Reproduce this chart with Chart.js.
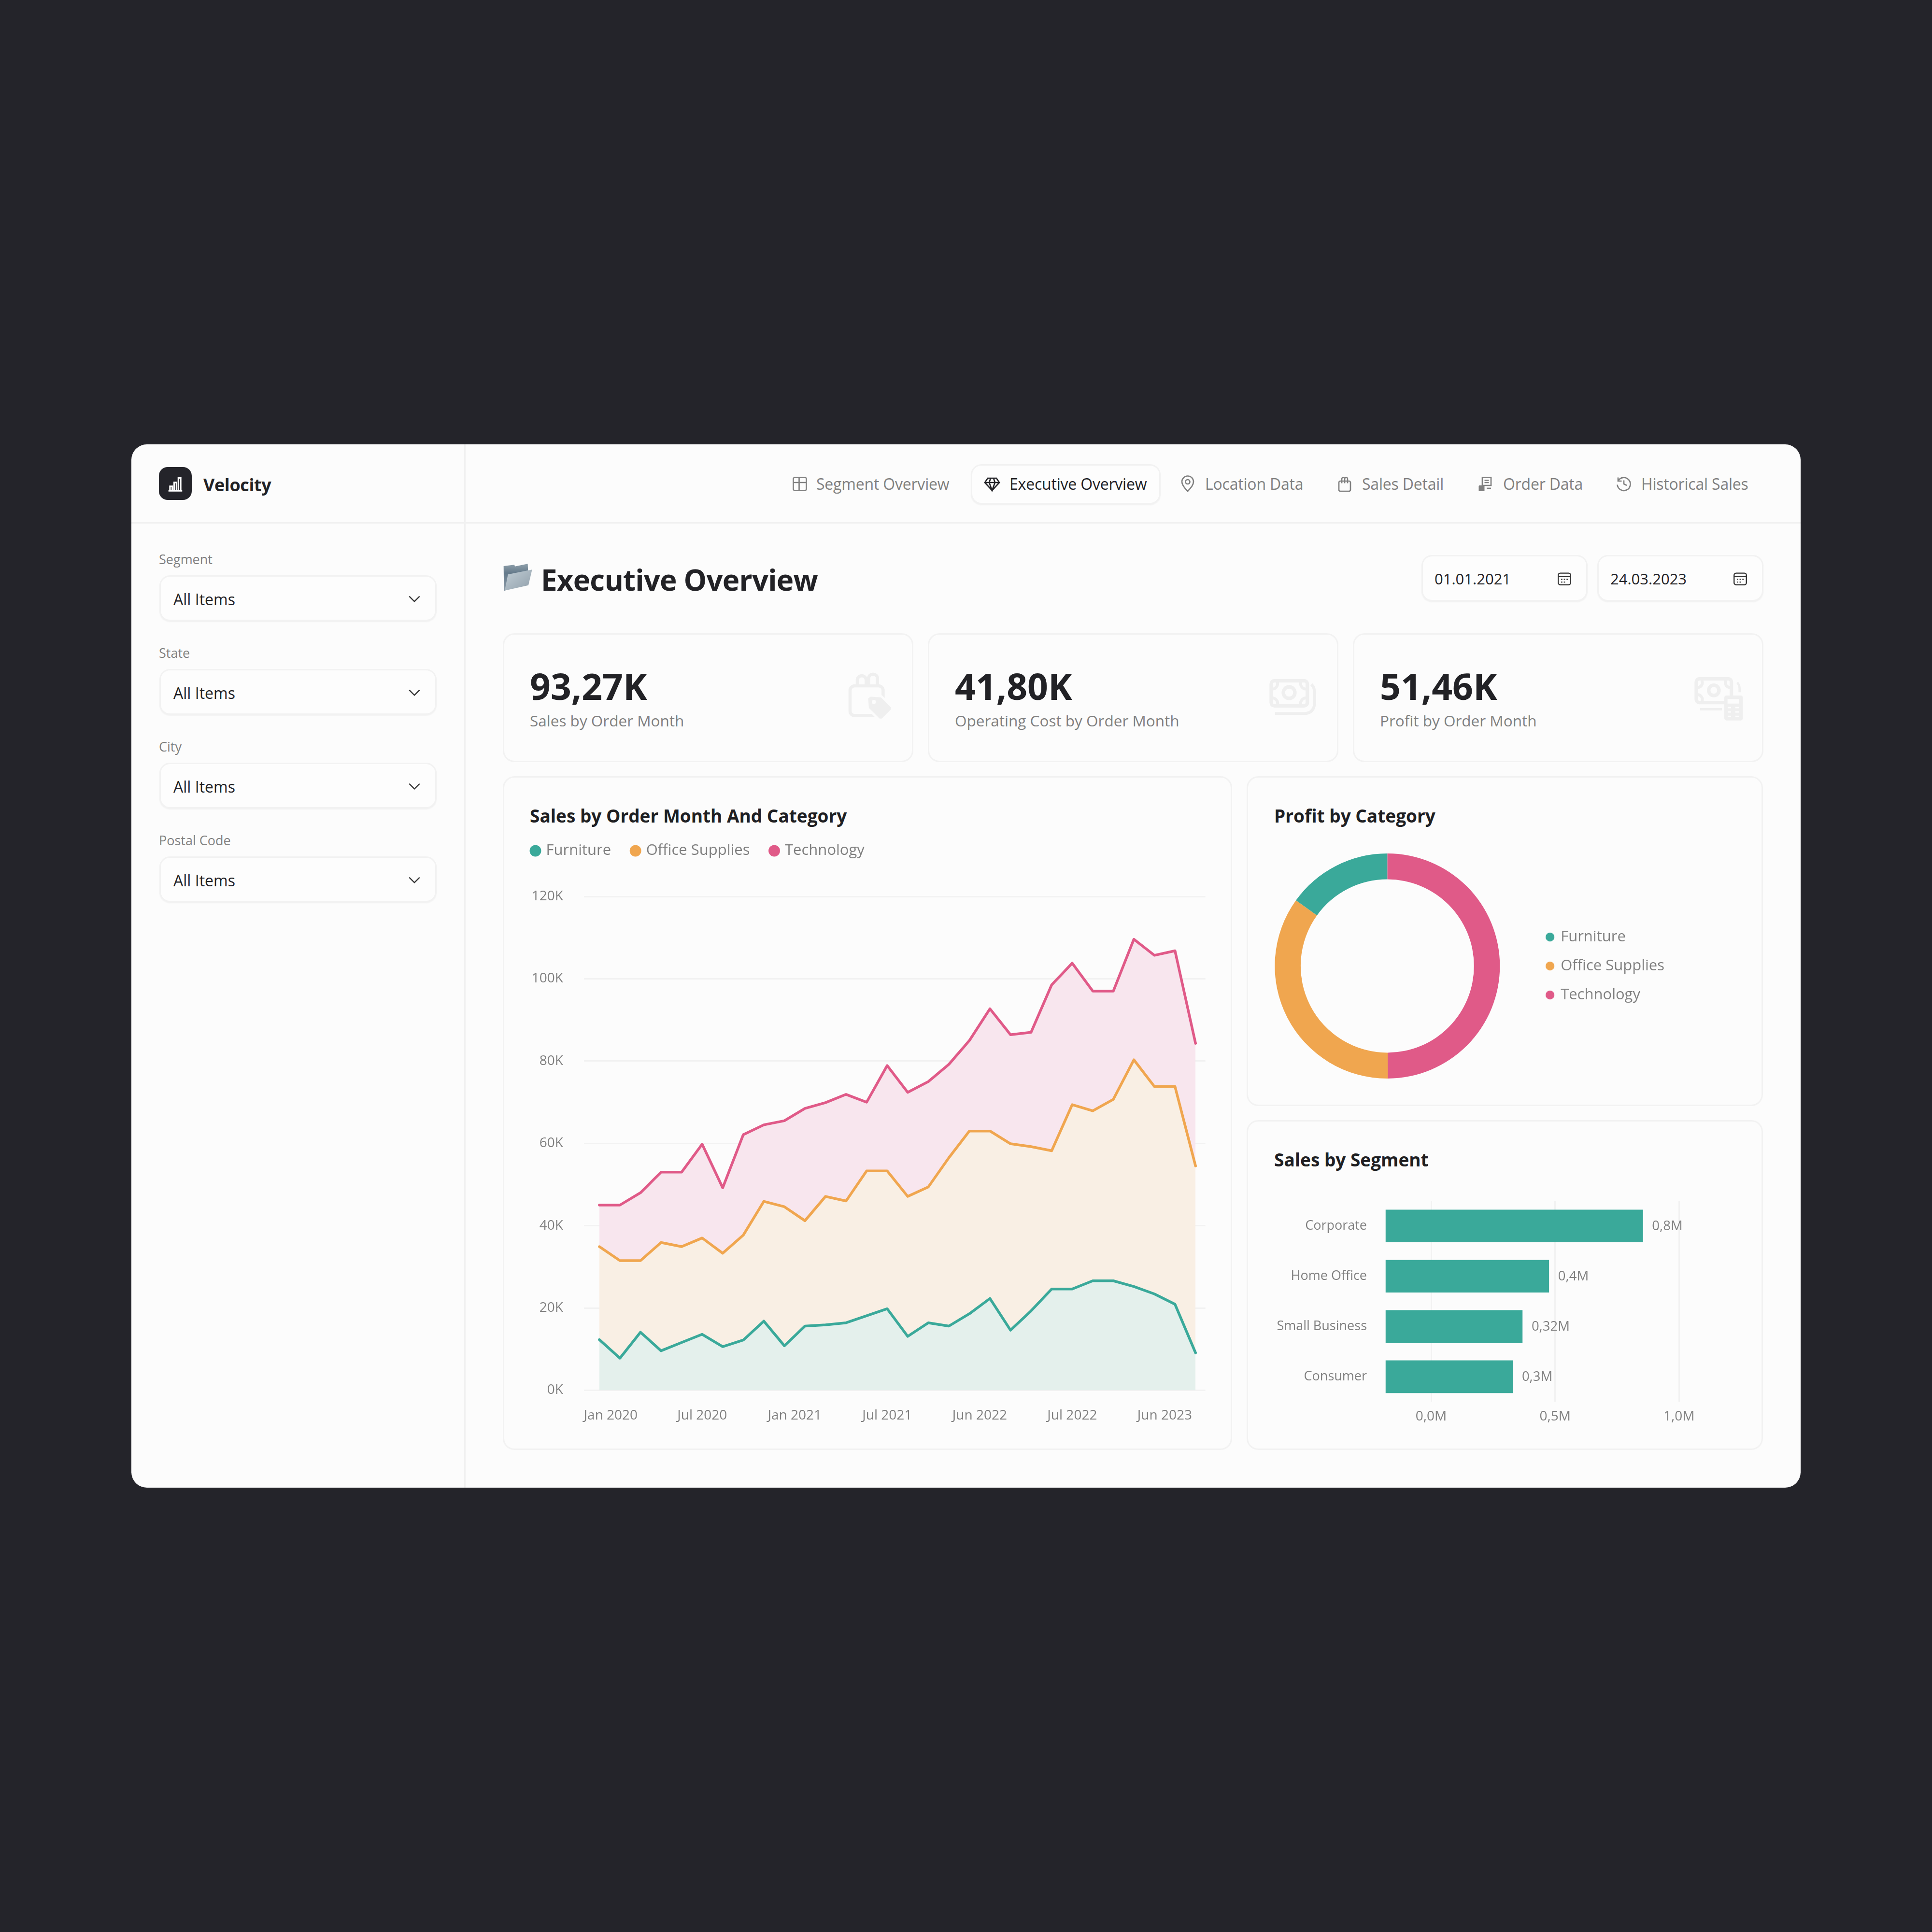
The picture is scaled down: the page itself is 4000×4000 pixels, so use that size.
<!DOCTYPE html>
<html>
<head>
<meta charset="utf-8">
<title>Velocity</title>
<script src="https://cdn.jsdelivr.net/npm/chart.js@4"></script>
<style>
html,body{margin:0;padding:0;width:4000px;height:4000px;background:#24242a;font-family:"Open Sans",sans-serif;overflow:hidden}
#win{position:absolute;left:272px;top:920px;width:3456px;height:2160px;background:#fcfcfc;border-radius:32px}
.abs,.t,.card,.box,canvas,svg{position:absolute}
.t{transform:translateY(-50%);white-space:nowrap;line-height:1.2}
.card,.box{box-sizing:border-box;background:#fcfcfc;border:3px solid #f2f2f2}
.card{border-radius:24px}
.box{border-radius:22px;background:#fdfdfd;box-shadow:0 2px 2px #f2f2f2}
.line{position:absolute;background:#f1f1f1}
.grey{color:#808080}
.dark{color:#222226}
.h{font-weight:700;color:#1f1f23}
</style>
</head>
<body>
<div id="root"></div>
<script>
var months = [0,1,2,3,4,5,6,7,8,9,10,11,12,13,14,15,16,17,18,19,20,21,22,23,24,25,26,27,28,29];
var furniture = [12.3,7.8,14.1,9.6,11.6,13.6,10.6,12.2,16.8,10.8,15.6,15.9,16.4,18.1,19.8,13.1,16.4,15.6,18.6,22.3,14.6,19.3,24.6,24.6,26.6,26.6,25.2,23.4,20.9,9.1];
var officeSupplies = [22.6,23.7,17.4,26.3,23.3,23.4,22.7,25.5,29.1,33.8,25.6,31.2,29.6,35.2,33.5,34,33,40.9,44.4,40.7,45.3,39.9,33.6,44.8,41.3,44.1,55.1,50.4,52.9,45.4];
var technology = [10.1,13.5,16.5,17.1,18.1,22.8,15.9,24.4,18.6,20.9,27.3,22.8,25.9,16.7,25.6,25.3,25.6,22.7,22,29.7,26.5,27.8,40.3,34.4,29.1,26.3,29.3,31.9,33,29.8];
var monthTickValues = [0.55,5,9.5,14,18.5,23,27.5];
var monthTickLabels = ["Jan 2020","Jul 2020","Jan 2021","Jul 2021","Jun 2022","Jul 2022","Jun 2023"];

var profitCategories = ["Technology","Office Supplies","Furniture"];
var profitValues = [25.7,18,7.76];

var segments = ["Corporate","Home Office","Small Business","Consumer"];
var segmentSales = [0.854,0.475,0.368,0.329];
var segmentLabels = ["0,8M","0,4M","0,32M","0,3M"];

var filters = ["Segment","State","City","Postal Code"];
var tabs = ["Segment Overview","Executive Overview","Location Data","Sales Detail","Order Data","Historical Sales"];
var kpis = [["93,27K","Sales by Order Month"],["41,80K","Operating Cost by Order Month"],["51,46K","Profit by Order Month"]];
var dates = ["01.01.2021","24.03.2023"];

var TEAL = "#3aa99a", ORANGE = "#f0a64f", PINK = "#e05a88", GREY = "#808080";
var FONT = '"Open Sans", sans-serif';
Chart.defaults.font.family = FONT;
Chart.defaults.devicePixelRatio = 1;
Chart.defaults.animation = false;
Chart.defaults.responsive = false;

// page frame, everything is placed in page pixels
var h = "";
function text(x, y, s, size, cls, extra){
  h += '<div class="t '+cls+'" style="left:'+x+'px;top:'+y+'px;font-size:'+size+'px;'+(extra||'')+'">'+s+'</div>';
}
function box(cls, x, y, w, hh){
  h += '<div class="'+cls+'" style="left:'+x+'px;top:'+y+'px;width:'+w+'px;height:'+hh+'px"></div>';
}
function svg(x, y, w, hh, inner, vb){
  h += '<svg style="left:'+x+'px;top:'+y+'px" width="'+w+'" height="'+hh+'" viewBox="'+(vb||'0 0 24 24')+'" fill="none">'+inner+'</svg>';
}

h += '<div id="win"></div>';
box("line", 961, 920, 3, 2160);
box("line", 272, 1081, 3456, 3);

// logo
h += '<div class="abs" style="left:329px;top:967px;width:68px;height:68px;border-radius:18px;background:#24242a"></div>';
svg(344, 983, 38, 38, '<path d="M3 21h18M5 21v-6h3v6M10.5 21V10h3v11M16 21V4h3v17" stroke="#fff" stroke-width="2"/>');
text(421, 1004, "Velocity", 36, "dark", "font-weight:700;letter-spacing:-0.4px");

// sidebar filters
filters.forEach(function(f, i){
  var y = 1158 + i*194;
  text(329, y, f, 27, "grey");
  box("box", 330, y+33, 574, 95);
  text(359, y+83, "All Items", 32, "dark");
  svg(842, y+66, 32, 32, '<path d="M4 8l8 8 8-8" stroke="#333" stroke-width="1.8"/>');
});

// tabs
var tabText = [1690,2090,2495,2820,3112,3398];
var tabIcon = [1638,2036,2441,2766,3057,3344];
var tabPaths = [
  '<rect x="3" y="3" width="18" height="18" rx="2" stroke="COL" stroke-width="1.8"/><path d="M3 10h18M11 3v18" stroke="COL" stroke-width="1.8"/>',
  '<path d="M6 4h12l4 6-10 11L2 10zM2 10h20M8 10l4 11 4-11M8 10l2-6M16 10l-2-6" stroke="COL" stroke-width="1.8"/>',
  '<path d="M12 22c5-5 8-9 8-13a8 8 0 10-16 0c0 4 3 8 8 13z" stroke="COL" stroke-width="1.8"/><circle cx="12" cy="9" r="3" stroke="COL" stroke-width="1.8"/>',
  '<rect x="4" y="8" width="16" height="14" rx="2" stroke="COL" stroke-width="1.8"/><path d="M8 11V5a2 2 0 014 0v6M12 11V5a2 2 0 014 0v6" stroke="COL" stroke-width="1.8"/>',
  '<path d="M8 14V3h12v11H8zM11 7h6M11 10h6" stroke="COL" stroke-width="1.8"/><rect x="3" y="14" width="8" height="8" rx="1" fill="COL"/><path d="M14 18h6" stroke="COL" stroke-width="1.8"/>',
  '<path d="M4 8a9 9 0 11-1 5M4 3v5h5M12 7v5l4 2" stroke="COL" stroke-width="1.8"/>'
];
box("box", 2010, 961, 393, 83);
tabs.forEach(function(t, i){
  var col = i==1 ? "#222226" : "#808080";
  svg(tabIcon[i], 984, 36, 36, tabPaths[i].replace(/COL/g, col));
  text(tabText[i], 1002, t, 32, i==1 ? "dark" : "grey", "letter-spacing:-0.2px");
});

// title row
svg(1020, 1150, 100, 100, '<defs><linearGradient id="fb" x1="0" y1="0" x2="0" y2="1"><stop offset="0" stop-color="#8fa0ab"/><stop offset="0.35" stop-color="#64798a"/><stop offset="1" stop-color="#8d9ca8"/></linearGradient><linearGradient id="ff" x1="0" y1="0" x2="1" y2="1"><stop offset="0" stop-color="#c2ced6"/><stop offset="1" stop-color="#909faa"/></linearGradient></defs><path d="M68 66L135 58l3 10 80-16 2 60-145 108-5-2z" fill="url(#fb)"/><path d="M95 118L245 88 222 185 75 218z" fill="url(#ff)"/>', "0 0 300 300");
text(1120, 1200, "Executive Overview", 60, "dark", "font-weight:700;letter-spacing:-0.8px");
dates.forEach(function(d, i){
  var x = 2943 + i*364;
  box("box", x, 1149, 344, 96);
  text(x+27, 1199, d, 31, "dark");
  svg(x+279, 1181, 34, 34, '<rect x="3" y="4" width="18" height="17" rx="3" stroke="#333" stroke-width="1.7"/><path d="M3 9h18" stroke="#333" stroke-width="1.7"/><path d="M7 13h2M11 13h2M15 13h2M7 17h2M11 17h2" stroke="#333" stroke-width="1.7"/>');
});

// kpi cards
var IC = "#efefef", BG = "#fcfcfc";
var kpiIconLeft = [689,679,679];
var kpiIcons = [
  '<rect x="90" y="150" width="205" height="185" rx="28" stroke="'+IC+'" stroke-width="20"/><path d="M135 150V110a28 28 0 0155 0v40M205 150V100a28 28 0 0155 0v50" stroke="'+IC+'" stroke-width="20"/><path d="M195 225l20-15 70 5 65 65v20l-60 60h-20l-70-70z" fill="'+IC+'" stroke="'+BG+'" stroke-width="14"/><circle cx="238" cy="250" r="13" fill="'+BG+'"/>',
  '<rect x="96" y="118" width="224" height="156" rx="20" stroke="'+IC+'" stroke-width="22"/><circle cx="207" cy="192" r="36" stroke="'+IC+'" stroke-width="22"/><path d="M100 170a34 34 0 0034-44M314 170a34 34 0 01-34-44M100 225a34 34 0 0134 44M314 225a34 34 0 00-34 44" stroke="'+IC+'" stroke-width="18"/><path d="M345 140q22 20 20 60v60q-5 60-65 62H120" stroke="'+IC+'" stroke-width="18"/>',
  '<rect x="96" y="106" width="218" height="148" rx="20" stroke="'+IC+'" stroke-width="22"/><circle cx="205" cy="178" r="32" stroke="'+IC+'" stroke-width="22"/><path d="M100 160a30 30 0 0030-44M310 160a30 30 0 01-30-44M100 205a30 30 0 0130 44" stroke="'+IC+'" stroke-width="18"/><path d="M120 295H255" stroke="'+IC+'" stroke-width="14"/><path d="M350 130q15 12 15 40v20" stroke="'+IC+'" stroke-width="14"/><rect x="270" y="210" width="115" height="155" rx="14" fill="'+IC+'"/><rect x="290" y="232" width="72" height="28" fill="'+BG+'"/><path d="M292 285h20M338 285h24M292 312h20M338 312h24M292 340h20M338 340h24" stroke="'+BG+'" stroke-width="9"/>'
];
kpis.forEach(function(k, i){
  var x = 1041 + i*880;
  box("card", x, 1311, 850, 267);
  text(x+56, 1420, k[0], 75, "dark", "font-weight:700");
  text(x+56, 1492, k[1], 31.5, "grey");
  svg(x+kpiIconLeft[i], 1370, 140, 140, kpiIcons[i], "0 0 420 420");
});

// chart cards
box("card", 1041, 1607, 1510, 1395);
box("card", 2581, 1607, 1069, 683);
box("card", 2581, 2319, 1069, 683);
text(1097, 1689, "Sales by Order Month And Category", 37, "h");
text(2638, 1689, "Profit by Category", 37, "h");
text(2638, 2401, "Sales by Segment", 37, "h");

h += '<canvas id="areaChart" width="1438" height="1274" style="left:1058px;top:1702px"></canvas>';
h += '<canvas id="donutChart" width="885" height="466" style="left:2571px;top:1767px"></canvas>';
h += '<canvas id="barChart" width="913" height="502" style="left:2630px;top:2462px"></canvas>';
document.getElementById("root").innerHTML = h;

function xy(values){
  return values.map(function(v, i){ return {x: months[i], y: v}; });
}
function areaSet(label, values, color, pale, fill){
  return {label: label, data: xy(values), borderColor: color, backgroundColor: color, fill: {target: fill, above: pale, below: pale},
    borderWidth: 5.5, pointRadius: 0, tension: 0, borderJoinStyle: "round", borderCapStyle: "round"};
}
var legendGap = {
  id: "legendGap",
  beforeInit: function(chart){
    var fit = chart.legend.fit;
    chart.legend.fit = function(){ fit.bind(this)(); this.height += 69; };
  }
};

new Chart(document.getElementById("areaChart"), {
  type: "line",
  plugins: [legendGap],
  data: {
    datasets: [
      areaSet("Furniture", furniture, TEAL, "#e4f0ec", "origin"),
      areaSet("Office Supplies", officeSupplies, ORANGE, "#f9efe4", "-1"),
      areaSet("Technology", technology, PINK, "#f8e6ee", "-1")
    ]
  },
  options: {
    plugins: {
      tooltip: {enabled: false},
      legend: {position: "top", align: "start", labels: {usePointStyle: true, pointStyle: "circle", boxWidth: 13, boxHeight: 13, padding: 44, color: GREY, font: {size: 31}}}
    },
    scales: {
      x: {
        type: "linear", min: -0.75, max: 29.48,
        afterBuildTicks: function(s){ s.ticks = monthTickValues.map(function(v){ return {value: v}; }); },
        ticks: {padding: 28, maxRotation: 0, autoSkip: false, color: GREY, font: {size: 28},
          callback: function(v){ return monthTickLabels[monthTickValues.indexOf(v)]; }},
        grid: {display: false}, border: {display: false}
      },
      y: {
        stacked: true, min: 0, max: 120,
        afterFit: function(s){ s.width = 151; },
        ticks: {stepSize: 20, padding: 43, color: GREY, font: {size: 28}, callback: function(v){ return v + "K"; }},
        grid: {color: "#f2f2f2", lineWidth: 3, drawTicks: false}, border: {display: false}
      }
    }
  }
});

new Chart(document.getElementById("donutChart"), {
  type: "doughnut",
  data: {
    labels: profitCategories,
    datasets: [{data: profitValues, backgroundColor: [PINK, ORANGE, TEAL], borderWidth: 0}]
  },
  options: {
    cutout: "77%",
    plugins: {
      tooltip: {enabled: false},
      legend: {position: "right", labels: {usePointStyle: true, pointStyle: "circle", boxWidth: 13, boxHeight: 13, padding: 29, color: GREY, font: {size: 31},
        sort: function(a, b){ return b.index - a.index; }}}
    }
  }
});

var barLabels = {
  id: "barLabels",
  afterDatasetsDraw: function(chart){
    var c = chart.ctx;
    c.save();
    c.font = "27.5px " + FONT;
    c.fillStyle = GREY;
    c.textBaseline = "middle";
    chart.getDatasetMeta(0).data.forEach(function(b, i){
      c.fillText(segmentLabels[i], b.x + 19, b.y + 1);
    });
    c.restore();
  }
};

new Chart(document.getElementById("barChart"), {
  type: "bar",
  plugins: [barLabels],
  data: {
    labels: segments,
    datasets: [{data: segmentSales, base: -0.183, backgroundColor: TEAL, barThickness: 67, borderSkipped: false}]
  },
  options: {
    indexAxis: "y",
    plugins: {legend: {display: false}, tooltip: {enabled: false}},
    scales: {
      x: {
        min: -0.228, max: 1.13,
        ticks: {stepSize: 0.5, includeBounds: false, padding: 14, color: GREY, font: {size: 28},
          callback: function(v){ return v.toFixed(1).replace(".", ",") + "M"; }},
        grid: {color: "#f2f2f2", lineWidth: 3, drawTicks: false}, border: {display: false}
      },
      y: {
        afterFit: function(s){ s.width = 216; },
        ticks: {padding: 8, color: GREY, font: {size: 27}},
        grid: {display: false}, border: {display: false}
      }
    }
  }
});
</script>
</body>
</html>
